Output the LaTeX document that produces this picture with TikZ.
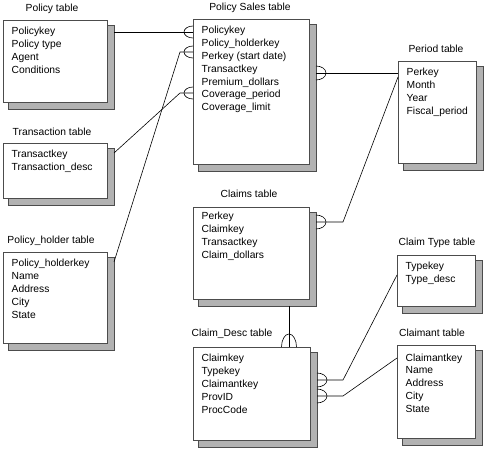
\documentclass[tikz,border=0pt]{standalone}
\usepackage{fontspec}
\setmainfont{Liberation Sans}
\begin{document}
\begin{tikzpicture}[x=1pt,y=-1pt,
  shadowbox/.style={draw=black!70, fill=black!30, line width=0.6pt, anchor=north west, inner sep=0pt, outer sep=0pt},
  frontbox/.style={draw=black!70, fill=white, line width=0.6pt, anchor=north west, inner sep=0pt, outer sep=0pt},
  rowtext/.style={anchor=base west, inner sep=0pt, font=\fontsize{10.3}{12}\selectfont},
  ttl/.style={anchor=base, inner sep=0pt, font=\fontsize{10.3}{12}\selectfont},
  link/.style={draw=black, line width=0.6pt},
  foot/.style={draw=black, line width=0.6pt}]
\useasboundingbox (0,0) rectangle (485,449);
\newcommand\tlines[4]{\foreach \t [count=\i] in {#4} \node[rowtext] (#1-\i) at (#2,{#3+12.8*(\i-1)}) {\t};}
\newcommand\footL[1]{\draw[foot] ([yshift=6pt]#1) arc[start angle=90,end angle=270,x radius=9pt,y radius=6pt];}
\newcommand\footR[1]{\draw[foot] ([yshift=7pt]#1) arc[start angle=90,end angle=-90,x radius=10pt,y radius=7pt];}
\newcommand\footU[1]{\draw[foot] ([xshift=-7.5pt]#1) arc[start angle=180,end angle=0,x radius=7.5pt,y radius=13pt];}

% Policy table
\node[shadowbox, minimum width=106pt, minimum height=84pt] (pols) at (8,25) {};
\node[frontbox, minimum width=104pt, minimum height=82pt] (pol) at (3,20) {};
\node[ttl] (polt) at (52,11.5) {Policy table};
\tlines{polr}{11.5}{35}{Policykey,Policy type,Agent,Conditions}

% Transaction table
\node[shadowbox, minimum width=106pt, minimum height=57pt] (trns) at (8,148) {};
\node[frontbox, minimum width=104pt, minimum height=55pt] (trn) at (3,143) {};
\node[ttl] (trnt) at (52,136) {Transaction table};
\tlines{trnr}{11.5}{158}{Transactkey,Transaction\_desc}

% Policy_holder table
\node[shadowbox, minimum width=106pt, minimum height=93pt] (phds) at (8,257) {};
\node[frontbox, minimum width=104pt, minimum height=91pt] (phd) at (3,252) {};
\node[ttl] (phdt) at (51,244) {Policy\_holder table};
\tlines{phdr}{11.5}{267}{Policy\_holderkey,Name,Address,City,State}

% Policy Sales table
\node[shadowbox, minimum width=118pt, minimum height=147pt] (pss) at (198,24) {};
\node[frontbox, minimum width=116pt, minimum height=145pt] (ps) at (193,19) {};
\node[ttl] (pst) at (250,11) {Policy Sales table};
\tlines{psr}{201.5}{34}{Policykey,Policy\_holderkey,Perkey (start date),Transactkey,Premium\_dollars,Coverage\_period,Coverage\_limit}

% Claims table
\node[shadowbox, minimum width=118pt, minimum height=94pt] (cls) at (198,212) {};
\node[frontbox, minimum width=116pt, minimum height=92pt] (cl) at (193,207) {};
\node[ttl] (clt) at (249,198) {Claims table};
\tlines{clr}{201.5}{220}{Perkey,Claimkey,Transactkey,Claim\_dollars}

% Claim_Desc table
\node[shadowbox, minimum width=119pt, minimum height=95pt] (cds) at (198,352) {};
\node[frontbox, minimum width=117pt, minimum height=93pt] (cd) at (193,347) {};
\node[ttl] (cdt) at (232,337) {Claim\_Desc table};
\tlines{cdr}{201.5}{362}{Claimkey,Typekey,Claimantkey,ProvID,ProcCode}

% Period table
\node[shadowbox, minimum width=80pt, minimum height=104pt] (pers) at (403,66) {};
\node[frontbox, minimum width=78pt, minimum height=102pt] (per) at (398,61) {};
\node[ttl] (pert) at (436,53) {Period table};
\tlines{perr}{406.5}{76}{Perkey,Month,Year,Fiscal\_period}

% Claim Type table
\node[shadowbox, minimum width=80pt, minimum height=53pt] (cts) at (402,260) {};
\node[frontbox, minimum width=78pt, minimum height=51pt] (ct) at (397,255) {};
\node[ttl] (ctt) at (437,246) {Claim Type table};
\tlines{ctr}{405.5}{270}{Typekey,Type\_desc}

% Claimant table
\node[shadowbox, minimum width=80pt, minimum height=95pt] (cms) at (402,350) {};
\node[frontbox, minimum width=78pt, minimum height=93pt] (cm) at (397,345) {};
\node[ttl] (cmt) at (432,337) {Claimant table};
\tlines{cmr}{405.5}{361}{Claimantkey,Name,Address,City,State}

% levels and bends
\coordinate (k32) at (150,32);
\coordinate (k73) at (350,73);
\coordinate (k289) at (289,320);
\coordinate (b1) at (180,52);
\coordinate (b2) at (180,93);
\coordinate (b3) at (343,222);
\coordinate (b4) at (343,380);
\coordinate (b5) at (343,396);

\coordinate (f1) at (ps.west |- k32);
\coordinate (f2) at (ps.west |- b1);
\coordinate (f3) at (ps.west |- b2);
\coordinate (f4) at (pss.east |- k73);
\coordinate (f5) at (cls.east |- b3);
\coordinate (f6) at (cd.north -| k289);
\coordinate (f7) at (cds.east |- b4);
\coordinate (f8) at (cds.east |- b5);

% connectors
\draw[link] (pols.east |- k32) -- (f1);
\draw[link] ([yshift=-5pt]phds.north east) -- (b1) -- (f2);
\draw[link] ([yshift=-5pt]trns.north east) -- (b2) -- (f3);
\draw[link] (f4) -- (per.west |- k73);
\draw[link] (f5) -- (b3) -- ([yshift=-16pt]per.north west);
\draw[link] (cls.south -| k289) -- (f6);
\draw[link] (f7) -- (b4) -- ([yshift=-20pt]ct.north west);
\draw[link] (f8) -- (b5) -- ([yshift=-13pt]cm.north west);

\footL{f1}
\footL{f2}
\footL{f3}
\footR{f4}
\footR{f5}
\footU{f6}
\footR{f7}
\footR{f8}
\end{tikzpicture}
\end{document}
